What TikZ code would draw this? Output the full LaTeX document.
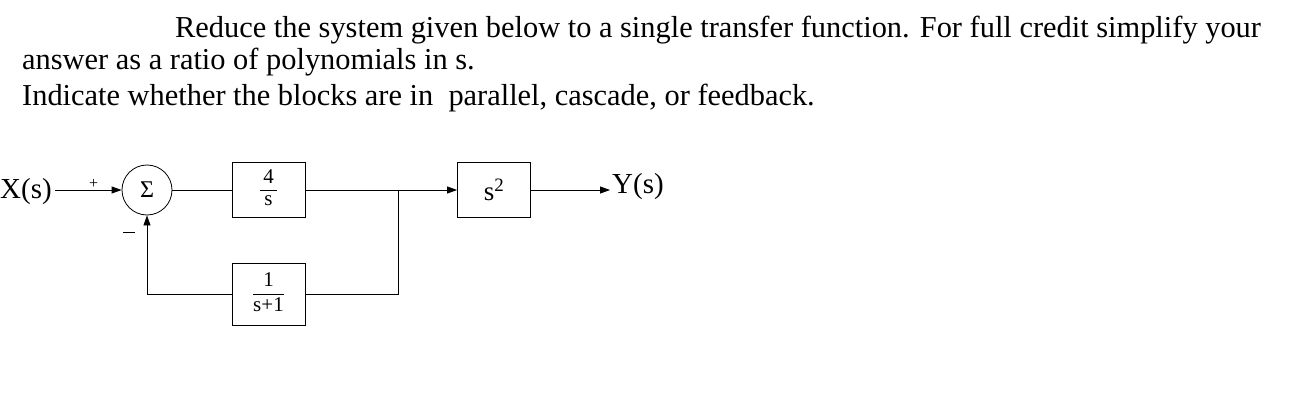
\documentclass[tikz,border=0pt]{standalone}
\usepackage{fontspec}
\setmainfont{Liberation Serif}
\usetikzlibrary{arrows.meta}
\begin{document}
\begin{tikzpicture}[x=1pt,y=-1pt,
  blk/.style={draw,line width=0.8pt,minimum width=73pt,minimum height=55pt,inner sep=0pt},
  ln/.style={line width=0.8pt},
  arr/.style={ln,-{Triangle[length=10pt,width=7pt]}},
  frac/.style={inner sep=0pt,font=\fontsize{21}{23}\selectfont},
  txt/.style={anchor=base west,inner sep=0pt,font=\fontsize{30.4}{34}\selectfont}]
\useasboundingbox (0,0) rectangle (1294,412);
\node[txt] (t1) at (175,38) {Reduce the system given below to a single transfer function. For full credit simplify your};
\node[txt] (t2) at (22,70) {answer as a ratio of polynomials in s.};
\node[txt] (t3) at (22,106) {Indicate whether the blocks are in\ \ parallel, cascade, or feedback.};
\node[txt,font=\fontsize{29}{34}\selectfont] (x) at (0,198) {X(s)};
\node[txt,font=\fontsize{16}{18}\selectfont] (plus) at (89,188) {+};
\node[draw,circle,ln,minimum size=50pt,inner sep=0pt,font=\fontsize{24}{28}\selectfont] (sum) at (147,190) {Σ};
\node[blk] (g) at (268.5,190) {};
\node[frac] (gl) at (g) {\renewcommand\arraystretch{0.95}\begin{tabular}{@{\,}c@{\,}}4\\\hline s\end{tabular}};
\node[blk] (p) at (494,190) {};
\node[font=\fontsize{27}{30}\selectfont] (pl) at (p) {s\textsuperscript{2}};
\node[blk,minimum height=62pt] (h) at (268.5,294) {};
\node[frac] (hl) at (h) {\renewcommand\arraystretch{1.1}\begin{tabular}{@{}c@{}}1\\\hline s+1\end{tabular}};
\node[txt,font=\fontsize{29}{34}\selectfont] (y) at (612,193) {Y(s)};
\coordinate (xs) at (55,190);
\coordinate (j) at (398,190);
\coordinate (out) at (610,190);
\coordinate (m1) at (123,232);
\coordinate (m2) at (135,232);
\draw[ln] (m1) -- (m2);
\draw[arr] (xs) -- (sum.west);
\draw[ln] (sum.east) -- (g.west);
\draw[ln] (g.east) -- (j);
\draw[arr] (j) -- (p.west);
\draw[arr] (p.east) -- (out);
\draw[ln] (j) |- (h.east);
\draw[arr] (h.west) -| (sum.south);
\end{tikzpicture}
\end{document}
